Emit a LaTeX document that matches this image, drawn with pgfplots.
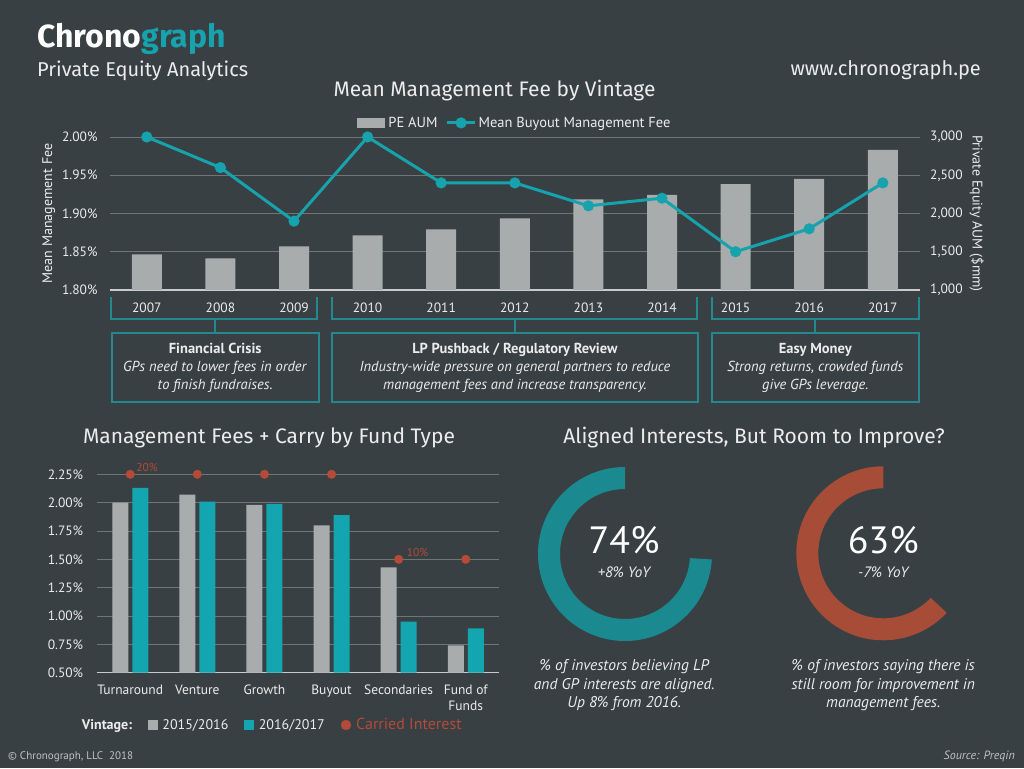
\documentclass[border=0pt]{standalone}
\usepackage{fontspec}
\setmainfont{PT Sans}
\newfontfamily\titlefont{Fira Sans}
\usepackage{pgfplots}
\pgfplotsset{compat=1.18}

\definecolor{bg}{HTML}{384043}
\definecolor{gridc}{HTML}{6F7678}
\definecolor{axisc}{HTML}{C8CBCB}
\definecolor{textc}{HTML}{ECECEC}
\definecolor{barc}{HTML}{A9ACAC}
\definecolor{linec}{HTML}{17A3AD}
\definecolor{tealbar}{HTML}{13A6B0}
\definecolor{boxc}{HTML}{25888F}
\definecolor{donutteal}{HTML}{1B8A90}
\definecolor{donutred}{HTML}{A74C37}
\definecolor{redc}{HTML}{B44A38}
\definecolor{footc}{HTML}{BFC3C4}

\pgfplotsset{
  infog/.style={
    scale only axis, anchor=south west,
    major tick length=0pt,
    /pgf/number format/assume math mode=true,
    tick label style={text=textc},
    label style={text=textc},
    grid style={gridc, line width=0.9pt},
  },
}

\begin{document}
\begin{tikzpicture}[x=1pt,y=1pt]
\fill[bg] (0,0) rectangle (1024,768);

% header
\node[anchor=base west, inner sep=0, font=\titlefont\bfseries\fontsize{32}{38}\selectfont, text=white] at (37,720) {Chrono\textcolor{linec}{graph}};
\node[anchor=base west, inner sep=0, font=\titlefont\fontsize{20}{24}\selectfont, text=textc] at (37,691) {Private Equity Analytics};
\node[anchor=base east, inner sep=0, font=\titlefont\fontsize{20}{24}\selectfont, text=textc] at (981,692) {www.chronograph.pe};
\node[anchor=base, inner sep=0, font=\titlefont\fontsize{21}{25}\selectfont, text=textc] at (494.5,671) {Mean Management Fee by Vintage};

% ---- top chart: AUM bars (right axis)
\begin{axis}[infog, at={(110pt,478pt)}, width=809.6pt, height=153pt,
  xmin=-0.5, xmax=10.5, ymin=1000, ymax=3000,
  axis x line*=bottom, axis y line*=right,
  x axis line style={axisc, line width=1.2pt}, y axis line style={draw=none},
  xtick={0,...,10},
  xticklabels={2007,2008,2009,2010,2011,2012,2013,2014,2015,2016,2017},
  ytick={1000,1500,2000,2500,3000}, ymajorgrids,
  yticklabel={\pgfmathprintnumber[fixed,1000 sep={,}]{\tick}},
  tick label style={font=\fontsize{13.5}{15}\selectfont},
  xticklabel shift=9pt, yticklabel shift=7pt,
  ylabel={Private Equity AUM (\$mm)},
  ylabel style={font=\fontsize{14}{16}\selectfont, rotate=180},
]
\addplot[ybar, bar width=30pt, fill=barc, draw=none] coordinates {
  (0,1466) (1,1414) (2,1571) (3,1715) (4,1793) (5,1937)
  (6,2185) (7,2242) (8,2385) (9,2451) (10,2830)};
\end{axis}

% ---- top chart: mean fee line (left axis)
\begin{axis}[infog, at={(110pt,478pt)}, width=809.6pt, height=153pt,
  xmin=-0.5, xmax=10.5, ymin=1.8, ymax=2.0,
  axis y line*=left, axis x line=none, y axis line style={draw=none},
  ytick={1.8,1.85,1.9,1.95,2.0},
  yticklabel={\pgfmathprintnumber[fixed,fixed zerofill,precision=2]{\tick}\%},
  tick label style={font=\fontsize{13.5}{15}\selectfont},
  yticklabel shift=9pt,
  ylabel={Mean Management Fee},
  ylabel style={font=\fontsize{14}{16}\selectfont},
  clip=false,
  legend style={at={(0.5,1)}, anchor=south, yshift=4pt, draw=none, fill=none,
    text=textc, font=\fontsize{14.5}{16}\selectfont, legend columns=2,
    /tikz/every even column/.append style={column sep=6pt}},
]
\addlegendimage{legend image code/.code={\fill[barc] (0pt,-4.5pt) rectangle (27pt,5pt);}}
\addlegendentry{\hspace{2pt}PE AUM}
\addplot[linec, line width=3pt, mark=*, mark size=4pt,
  mark options={fill=linec, draw=linec},
  legend image code/.code={\draw[linec, line width=3pt] (0pt,0pt) -- (28pt,0pt);
    \fill[linec] (14pt,0pt) circle (4pt);}] coordinates {
  (0,2.00) (1,1.96) (2,1.89) (3,2.00) (4,1.94) (5,1.94)
  (6,1.91) (7,1.92) (8,1.85) (9,1.88) (10,1.94)};
\addlegendentry{Mean Buyout Management Fee}
\end{axis}

% ---- period brackets and boxes
\begin{scope}[boxc, line width=2pt]
\draw (110.6,471) -- (110.6,449) -- (317,449) -- (317,471);
\draw (214.7,449) -- (214.7,434.7);
\draw (331.7,471) -- (331.7,449) -- (697,449) -- (697,471);
\draw (515,449) -- (515,434.7);
\draw (711.5,471) -- (711.5,449) -- (919,449) -- (919,471);
\draw (815,449) -- (815,434.7);
\draw (111.7,365.7) rectangle (318.7,434.7);
\draw (332,365.7) rectangle (698,434.7);
\draw (711.7,365.7) rectangle (919,434.7);
\end{scope}
\begin{scope}[every node/.style={align=center, text=textc, font=\fontsize{14.5}{18}\selectfont}]
\node at (215.2,400.2) {\textbf{Financial Crisis}\\\textit{GPs need to lower fees in order}\\\textit{to finish fundraises.}};
\node at (515,400.2) {\textbf{LP Pushback / Regulatory Review}\\\textit{Industry-wide pressure on general partners to reduce}\\\textit{management fees and increase transparency.}};
\node at (815.3,400.2) {\textbf{Easy Money}\\\textit{Strong returns, crowded funds}\\\textit{give GPs leverage.}};
\end{scope}

% ---- bottom left chart
\node[anchor=base, inner sep=0, font=\titlefont\fontsize{21}{25}\selectfont, text=textc] at (269,324) {Management Fees + Carry by Fund Type};

\begin{axis}[infog, at={(96.7pt,95.3pt)}, width=402.6pt, height=198.4pt,
  xmin=-0.5, xmax=5.5, ymin=0.5, ymax=2.25,
  axis x line*=bottom, axis y line*=left,
  x axis line style={axisc, line width=1.2pt}, y axis line style={draw=none},
  xtick={0,...,5},
  xticklabels={Turnaround,Venture,Growth,Buyout,Secondaries,{Fund of\\Funds}},
  xticklabel style={align=center, anchor=north},
  ytick={0.5,0.75,1,1.25,1.5,1.75,2,2.25}, ymajorgrids,
  yticklabel={\pgfmathprintnumber[fixed,fixed zerofill,precision=2]{\tick}\%},
  tick label style={font=\fontsize{13.5}{16}\selectfont},
  xticklabel shift=9pt, yticklabel shift=10pt,
]
\addplot[ybar, bar width=16pt, bar shift=-10pt, fill=barc, draw=none] coordinates {
  (0,2.00) (1,2.07) (2,1.98) (3,1.80) (4,1.43) (5,0.74)};
\addplot[ybar, bar width=16pt, bar shift=10pt, fill=tealbar, draw=none] coordinates {
  (0,2.13) (1,2.01) (2,1.99) (3,1.89) (4,0.95) (5,0.89)};
\end{axis}

% carried interest on its own scale (20% level = 2.25% fee gridline)
\begin{axis}[infog, at={(96.7pt,95.3pt)}, width=402.6pt, height=198.4pt,
  xmin=-0.5, xmax=5.5, ymin=-3.33333, ymax=20,
  hide axis, clip=false,
  legend style={at={(-0.042,-0.2636)}, anchor=west, draw=none, fill=none,
    text=textc, font=\fontsize{14}{17}\selectfont, legend columns=4,
    inner xsep=0pt,
    /tikz/every even column/.append style={column sep=14pt}},
]
\addlegendimage{empty legend}
\addlegendentry{\textbf{Vintage:}}
\addlegendimage{legend image code/.code={\fill[barc] (0pt,-4.5pt) rectangle (9pt,4.5pt);}}
\addlegendentry{\hspace{3pt}2015/2016}
\addlegendimage{legend image code/.code={\fill[tealbar] (0pt,-4.5pt) rectangle (9pt,4.5pt);}}
\addlegendentry{\hspace{3pt}2016/2017\hspace{16pt}}
\addplot[only marks, mark=*, mark size=4.3pt, color=redc,
  legend image code/.code={\fill[redc] (4.5pt,0pt) circle (5pt);}] coordinates {
  (0,20) (1,20) (2,20) (3,20) (4,10) (5,10)};
\addlegendentry{\hspace{3pt}\textcolor{redc}{\fontsize{16}{17}\selectfont Carried Interest}}
\node[anchor=base west, inner sep=0, text=redc, font=\fontsize{11.5}{14}\selectfont,
  xshift=6pt, yshift=3pt] at (axis cs:0,20) {20\%};
\node[anchor=base west, inner sep=0, text=redc, font=\fontsize{11.5}{14}\selectfont,
  xshift=8pt, yshift=3pt] at (axis cs:4,10) {10\%};
\end{axis}

% ---- donuts
\node[anchor=base, inner sep=0, font=\titlefont\fontsize{21}{25}\selectfont, text=textc] at (754,324) {Aligned Interests, But Room to Improve?};

\pgfmathsetmacro\da{74*3.6}
\fill[donutteal] ([shift={(90:87)}]625,214) arc[start angle=90, delta angle=\da, radius=87]
  -- ([shift={(90+\da:65)}]625,214) arc[start angle=90+\da, delta angle=-\da, radius=65] -- cycle;
\pgfmathsetmacro\db{63*3.6}
\fill[donutred] ([shift={(90:87)}]883.3,214.7) arc[start angle=90, delta angle=\db, radius=87]
  -- ([shift={(90+\db:65)}]883.3,214.7) arc[start angle=90+\db, delta angle=-\db, radius=65] -- cycle;

\node[anchor=base, inner sep=0, text=white, font=\fontsize{38}{42}\selectfont] at (624,214.7) {74\%};
\node[anchor=base, inner sep=0, text=textc, font=\itshape\fontsize{15}{18}\selectfont] at (624,190.3) {+8\% YoY};
\node[anchor=base, inner sep=0, text=white, font=\fontsize{38}{42}\selectfont] at (883.3,214.7) {63\%};
\node[anchor=base, inner sep=0, text=textc, font=\itshape\fontsize{15}{18}\selectfont] at (883.3,190.3) {-7\% YoY};

% captions: base anchor sits on the last line
\node[anchor=base, inner sep=0, align=center, text=textc, font=\itshape\fontsize{15.5}{18.5}\selectfont] at (624.3,60.3)
  {\% of investors believing LP\\and GP interests are aligned.\\Up 8\% from 2016.};
\node[anchor=base, inner sep=0, align=center, text=textc, font=\itshape\fontsize{15.5}{18.5}\selectfont] at (883.3,60.3)
  {\% of investors saying there is\\still room for improvement in\\management fees.};

% ---- footer
\node[anchor=base west, inner sep=0, text=footc, font=\fontsize{11}{13}\selectfont] at (8,9) {\textcopyright{} Chronograph, LLC\ \ 2018};
\node[anchor=base east, inner sep=0, text=footc, font=\itshape\fontsize{12}{14}\selectfont] at (1015,9) {Source: Preqin};
\end{tikzpicture}
\end{document}
